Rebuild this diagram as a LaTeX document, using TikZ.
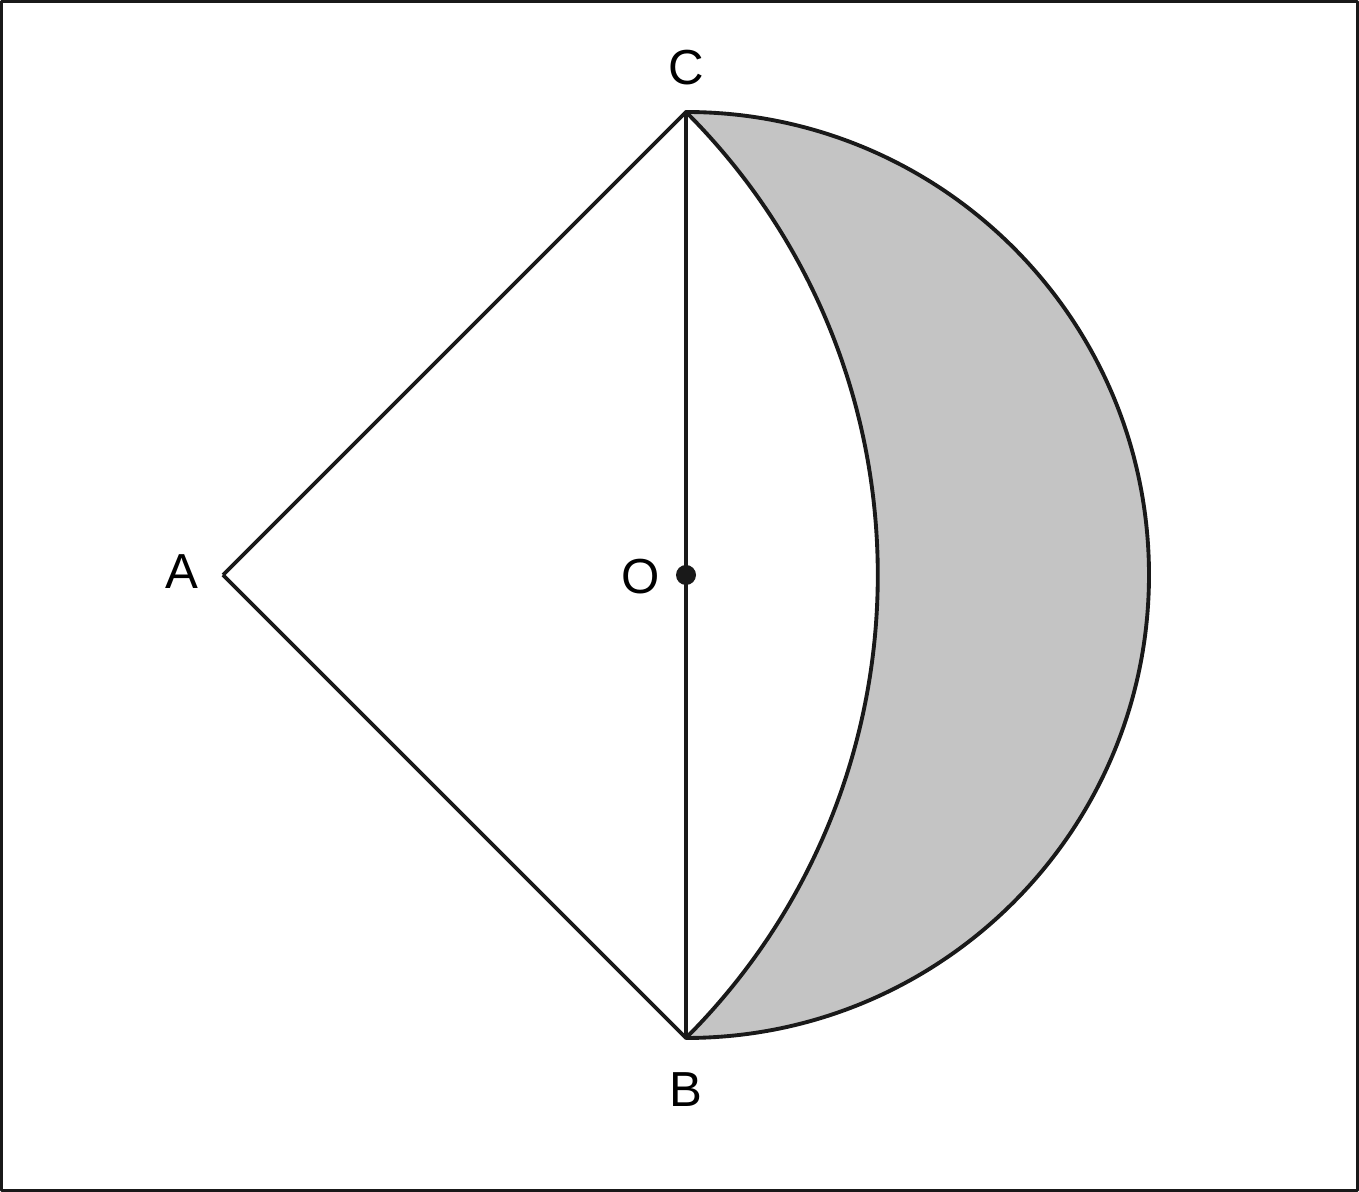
\documentclass[tikz,border=0pt]{standalone}
\usepackage{fontspec}
\setmainfont{Liberation Sans}
\begin{document}
\begin{tikzpicture}[line join=round,
	every node/.style={font=\fontsize{14}{17}\selectfont},
	fig/.style={line width=1.1pt, black!90},
	lune/.style={fig, fill=black!23}]
				\useasboundingbox (0,0) rectangle (13.59,11.92);
				\draw[line width=0.85pt, black!90] (0.015,0.015) rectangle (13.575,11.905);
				\coordinate (O) at (6.86, 6.17);
				\coordinate (A) at (2.23, 6.17);
				\coordinate (B) at (6.86, 1.54);
				\coordinate (C) at (6.86, 10.80);
				\node (lA) at (1.82, 6.20) {A};
				\node (lB) at (6.86, 1.02) {B};
				\node (lC) at (6.86, 11.24) {C};
				\node (lO) at (6.41, 6.15) {O};
				\draw[lune] (C) arc[start angle=90, end angle=-90, radius=4.63]
					arc[start angle=-45, end angle=45, radius=6.548] -- cycle;
				\draw[fig] (A) -- (C);
				\draw[fig] (A) -- (B);
				\draw[fig] (B) -- (C);
				\fill[black!90] (O) circle (0.1);
			\end{tikzpicture}
\end{document}
